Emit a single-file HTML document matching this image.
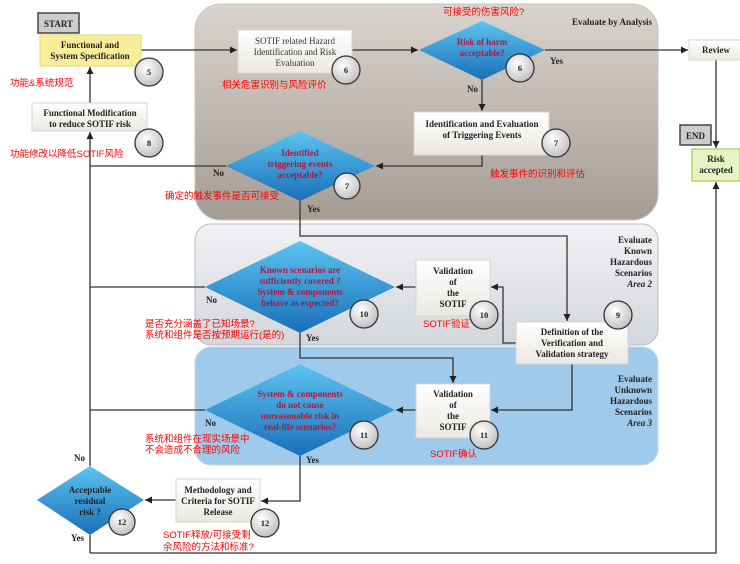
<!DOCTYPE html>
<html><head><meta charset="utf-8"><style>
html,body{margin:0;padding:0;background:#fff;}
svg{display:block;}
.b{font-family:"Liberation Serif",serif;font-weight:bold;font-size:9px;fill:#222;}
.r{font-family:"Liberation Serif",serif;font-size:9px;fill:#333;}
.d{font-family:"Liberation Serif",serif;font-weight:bold;font-size:9px;fill:#b0173d;}
.c{font-family:"Liberation Sans","Noto Sans CJK SC",sans-serif;font-size:9.5px;fill:#f00;}
.n{font-family:"Liberation Serif",serif;font-weight:bold;font-size:8.5px;fill:#222;}
.l{stroke:#333;stroke-width:1.3;fill:none;}
</style></head><body>
<svg width="740" height="564" viewBox="0 0 740 564" xmlns="http://www.w3.org/2000/svg">
<defs>
<linearGradient id="gray" x1="0" y1="0" x2="0" y2="1"><stop offset="0" stop-color="#d9d4cf"/><stop offset="1" stop-color="#a59c94"/></linearGradient>
<linearGradient id="a2" x1="0" y1="0" x2="0" y2="1"><stop offset="0" stop-color="#f1f2f4"/><stop offset="1" stop-color="#d3d6db"/></linearGradient>
<linearGradient id="dia" x1="0" y1="0" x2="0" y2="1"><stop offset="0" stop-color="#5cc4f0"/><stop offset="1" stop-color="#1a6fb8"/></linearGradient>
<linearGradient id="box" x1="0" y1="0" x2="0" y2="1"><stop offset="0" stop-color="#ffffff"/><stop offset="1" stop-color="#ebe8e3"/></linearGradient>
<radialGradient id="cir" cx="0.4" cy="0.35" r="0.7"><stop offset="0" stop-color="#ffffff"/><stop offset="1" stop-color="#bdbdbd"/></radialGradient>
<marker id="ar" markerWidth="8" markerHeight="8" refX="7" refY="4" orient="auto" markerUnits="userSpaceOnUse"><path d="M0,0.5 L7,4 L0,7.5z" fill="#222"/></marker>
</defs>

<!-- regions -->
<rect x="195" y="4" width="463" height="216" rx="26" fill="url(#gray)" stroke="#c9c3bd"/>
<rect x="195" y="224" width="463" height="121" rx="16" fill="url(#a2)" stroke="#b8bcc2"/>
<rect x="195" y="347" width="463" height="118" rx="16" fill="#9fcaeb" stroke="#c4d6e6"/>

<text class="b" x="652" y="25" text-anchor="end">Evaluate by Analysis</text>
<g class="b" text-anchor="end"><text x="652" y="243">Evaluate</text><text x="652" y="254">Known</text><text x="652" y="265">Hazardous</text><text x="652" y="276">Scenarios</text><text x="652" y="287" font-style="italic">Area 2</text></g>
<g class="b" text-anchor="end"><text x="652" y="382">Evaluate</text><text x="652" y="393">Unknown</text><text x="652" y="404">Hazardous</text><text x="652" y="415">Scenarios</text><text x="652" y="426" font-style="italic">Area 3</text></g>

<!-- connectors -->
<path class="l" d="M141,50 H237" marker-end="url(#ar)"/>
<path class="l" d="M352,50 H418" marker-end="url(#ar)"/>
<path class="l" d="M545,50 H688" marker-end="url(#ar)"/>
<path class="l" d="M716,60 V148" marker-end="url(#ar)"/>
<path class="l" d="M90,553 H716 V182" marker-end="url(#ar)"/>
<path class="l" d="M482,80 V111" marker-end="url(#ar)"/>
<path class="l" d="M482,155 V166 H376" marker-end="url(#ar)"/>
<path class="l" d="M226,166 H90"/>
<path class="l" d="M90,466 V132" marker-end="url(#ar)"/>
<path class="l" d="M90,103 V67" marker-end="url(#ar)"/>
<path class="l" d="M300,201 V236 H567 V321" marker-end="url(#ar)"/>
<path class="l" d="M516,343 H503 V287 H491" marker-end="url(#ar)"/>
<path class="l" d="M416,287 H396" marker-end="url(#ar)"/>
<path class="l" d="M205,287 H90"/>
<path class="l" d="M300,333 V358 H453 V383" marker-end="url(#ar)"/>
<path class="l" d="M572,364 V410 H491" marker-end="url(#ar)"/>
<path class="l" d="M416,410 H396" marker-end="url(#ar)"/>
<path class="l" d="M205,410 H90"/>
<path class="l" d="M300,456 V501 H261" marker-end="url(#ar)"/>
<path class="l" d="M176,500 H145" marker-end="url(#ar)"/>
<path class="l" d="M90,535 V553"/>

<!-- START / END -->
<rect x="38" y="13" width="41" height="20" fill="#ccc" stroke="#444" stroke-width="1.5"/>
<text class="b" x="58.5" y="27" text-anchor="middle">START</text>
<rect x="680" y="125" width="31" height="20" fill="#ccc" stroke="#444" stroke-width="1.5"/>
<text class="b" x="695.5" y="139" text-anchor="middle">END</text>

<!-- boxes -->
<rect x="40" y="35" width="101" height="31" fill="#f8ee9a" stroke="#e6d76a"/>
<text class="b" x="90" y="48" text-anchor="middle">Functional and</text><text class="b" x="90" y="59" text-anchor="middle">System Specification</text>
<rect x="32" y="103" width="115" height="28" fill="url(#box)" stroke="#d8d4ce"/>
<text class="b" x="90" y="116" text-anchor="middle">Functional Modification</text><text class="b" x="90" y="127" text-anchor="middle">to reduce SOTIF risk</text>
<rect x="238" y="30" width="114" height="43" fill="url(#box)" stroke="#d8d4ce"/>
<g class="r" text-anchor="middle"><text x="295" y="44">SOTIF related Hazard</text><text x="295" y="55">Identification and Risk</text><text x="295" y="66">Evaluation</text></g>
<rect x="689" y="40" width="52" height="20" fill="url(#box)" stroke="#d8d4ce"/>
<text class="b" x="716" y="53" text-anchor="middle">Review</text>
<rect x="692" y="149" width="48" height="32" fill="#e8f3c4" stroke="#b8d46a" stroke-width="1.5"/>
<text class="b" x="716" y="162" text-anchor="middle">Risk</text><text class="b" x="716" y="173" text-anchor="middle">accepted</text>
<rect x="414" y="112" width="135" height="43" fill="url(#box)" stroke="#d8d4ce"/>
<text class="b" x="482" y="127" text-anchor="middle">Identification and Evaluation</text><text class="b" x="482" y="138" text-anchor="middle">of Triggering Events</text>
<rect x="416" y="260" width="74" height="56" fill="url(#box)" stroke="#d8d4ce"/>
<g class="b" text-anchor="middle"><text x="453" y="274">Validation</text><text x="453" y="285">of</text><text x="453" y="296">the</text><text x="453" y="307">SOTIF</text></g>
<rect x="516" y="322" width="112" height="42" fill="url(#box)" stroke="#d8d4ce"/>
<g class="b" text-anchor="middle"><text x="572" y="335">Definition of the</text><text x="572" y="346">Verification and</text><text x="572" y="357">Validation strategy</text></g>
<rect x="416" y="384" width="74" height="54" fill="url(#box)" stroke="#d8d4ce"/>
<g class="b" text-anchor="middle"><text x="453" y="397">Validation</text><text x="453" y="408">of</text><text x="453" y="419">the</text><text x="453" y="430">SOTIF</text></g>
<rect x="176" y="479" width="84" height="43" fill="url(#box)" stroke="#d8d4ce"/>
<g class="b" text-anchor="middle"><text x="218" y="493">Methodology and</text><text x="218" y="504">Criteria for SOTIF</text><text x="218" y="515">Release</text></g>

<!-- diamonds -->
<polygon points="482,21 545,50 482,80 419,50" fill="url(#dia)"/>
<text class="d" x="482" y="45" text-anchor="middle">Risk of harm</text><text class="d" x="482" y="56" text-anchor="middle">acceptable?</text>
<polygon points="300,131 375,166 300,201 226,166" fill="url(#dia)"/>
<g class="d" text-anchor="middle"><text x="300" y="156">Identified</text><text x="300" y="167">triggering events</text><text x="300" y="178">acceptable?</text></g>
<polygon points="300,241 395,287 300,333 205,287" fill="url(#dia)"/>
<g class="d" text-anchor="middle"><text x="300" y="273">Known scenarios are</text><text x="300" y="284">sufficiently covered ?</text><text x="300" y="295">System &amp; components</text><text x="300" y="306">behave as expected?</text></g>
<polygon points="300,364 395,410 300,456 205,410" fill="url(#dia)"/>
<g class="d" text-anchor="middle"><text x="300" y="397">System &amp; components</text><text x="300" y="408">do not cause</text><text x="300" y="419">unreasonable risk in</text><text x="300" y="430">real-life scenarios?</text></g>
<polygon points="90,466 144,500 90,535 37,500" fill="url(#dia)"/>
<g class="b" text-anchor="middle"><text x="90" y="493">Acceptable</text><text x="90" y="504">residual</text><text x="90" y="515">risk ?</text></g>

<!-- circles -->
<g stroke="#333" stroke-width="1.3" fill="url(#cir)">
<circle cx="149" cy="72" r="14"/><circle cx="149" cy="143" r="14"/><circle cx="346" cy="70" r="14"/>
<circle cx="520" cy="68" r="14"/><circle cx="556" cy="143" r="14"/><circle cx="347" cy="186" r="13"/>
<circle cx="364" cy="314" r="14"/><circle cx="484" cy="315" r="14"/><circle cx="618" cy="315" r="14"/>
<circle cx="364" cy="435" r="14"/><circle cx="484" cy="435" r="14"/><circle cx="122" cy="522" r="13"/><circle cx="265" cy="523" r="14"/>
</g>
<g class="n" text-anchor="middle">
<text x="149" y="75">5</text><text x="149" y="146">8</text><text x="346" y="73">6</text><text x="520" y="71">6</text>
<text x="556" y="146">7</text><text x="347" y="189">7</text><text x="364" y="317">10</text><text x="484" y="318">10</text>
<text x="618" y="318">9</text><text x="364" y="438">11</text><text x="484" y="438">11</text><text x="122" y="525">12</text><text x="265" y="526">12</text>
</g>

<!-- Yes/No -->
<g class="b"><text x="550" y="64">Yes</text><text x="467" y="92">No</text><text x="213" y="176">No</text><text x="307" y="212">Yes</text>
<text x="206" y="303">No</text><text x="306" y="341">Yes</text><text x="205" y="426">No</text><text x="306" y="463">Yes</text>
<text x="74" y="461">No</text><text x="71" y="541">Yes</text></g>

<!-- Chinese labels -->
<g class="c">
<text x="10" y="86">功能&amp;系统规范</text>
<text x="10" y="157">功能修改以降低SOTIF风险</text>
<text x="222" y="88">相关危害识别与风险评价</text>
<text x="443" y="15">可接受的伤害风险?</text>
<text x="490" y="177">触发事件的识别和评估</text>
<text x="165" y="199">确定的触发事件是否可接受</text>
<text x="145" y="327">是否充分涵盖了已知场景?</text>
<text x="145" y="338">系统和组件是否按预期运行(是的)</text>
<text x="423" y="327">SOTIF验证</text>
<text x="145" y="442">系统和组件在现实场景中</text>
<text x="145" y="453">不会造成不合理的风险</text>
<text x="430" y="457">SOTIF确认</text>
<text x="163" y="538">SOTIF释放/可接受剩</text>
<text x="163" y="550">余风险的方法和标准?</text>
</g>
</svg>
</body></html>
